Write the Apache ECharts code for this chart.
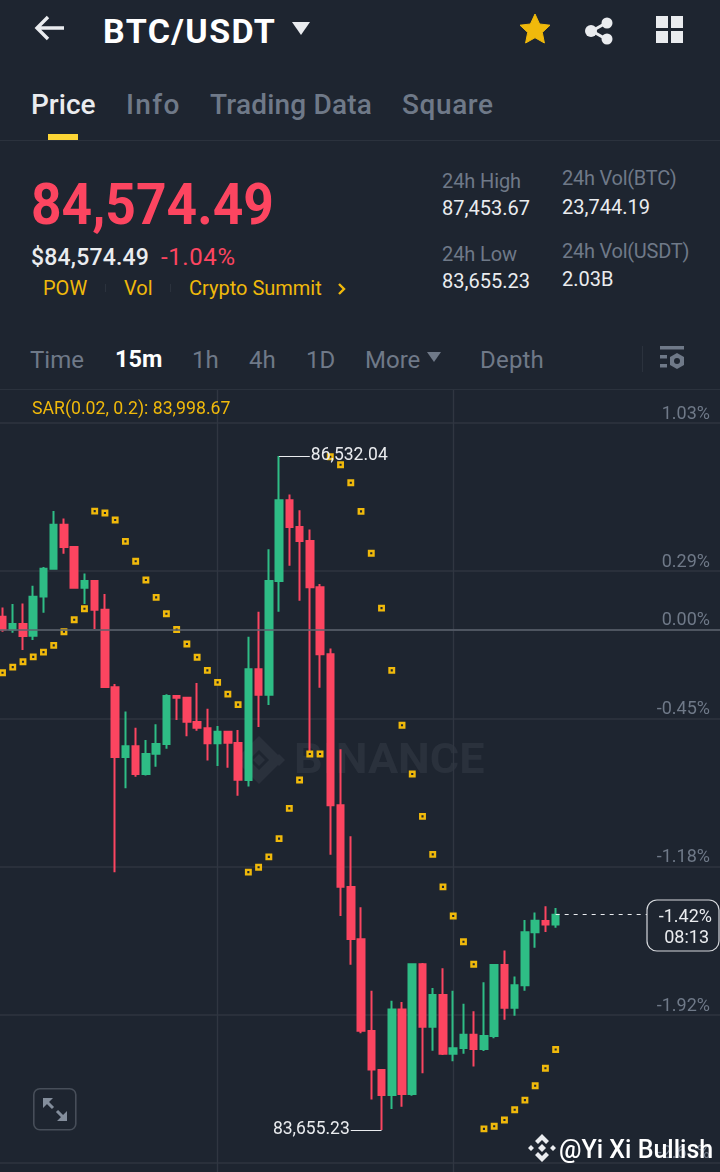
<!DOCTYPE html>
<html>
<head>
<meta charset="utf-8">
<title>BTC/USDT</title>
<script src="https://cdn.jsdelivr.net/npm/echarts@6/dist/echarts.min.js"></script>
<style>
html, body { margin: 0; padding: 0; background: #1e2530; }
#page { position: relative; width: 720px; height: 1172px; overflow: hidden; background: #1e2530; font-family: Roboto, sans-serif; color: #eaecef; }
#chart { position: absolute; left: -3px; top: 390px; width: 728px; height: 782px; }
.t { position: absolute; white-space: nowrap; line-height: 1; transform: translateY(-50%); }
.gray { color: #6f7988; }
.gold { color: #f0b90b; }
.red { color: #fc4560; }
.line { position: absolute; background: #2b323d; }
svg { position: absolute; overflow: visible; }
</style>
</head>
<body>
<div id="page">
    <!-- header -->
    <svg style="left:34px;top:15px" width="32" height="26"><path d="M30 13H3M14 2L3 13l11 11" fill="none" stroke="#eaecef" stroke-width="3.4"/></svg>
    <span class="t" style="left:103px;top:31px;font-size:34px;font-weight:700;letter-spacing:1.4px;color:#fff">BTC/USDT</span>
    <svg style="left:292px;top:22px" width="18" height="14"><path d="M0 0H18L9 13Z" fill="#eaecef"/></svg>
    <svg style="left:519px;top:13px" width="32" height="32"><path d="M16 1l4.6 10 10.4 1.2-7.7 7.2 2.1 10.6L16 24.7 6.600 30l2.100-10.600L1 12.200 11.400 11Z" fill="#f0b90b" stroke="#f0b90b" stroke-linejoin="round"/></svg>
    <svg style="left:585px;top:17px" width="30" height="26"><path d="M21 6L7 14l14 8" fill="none" stroke="#eaecef" stroke-width="3"/><circle cx="22" cy="6" r="5.500" fill="#eaecef"/><circle cx="6" cy="14" r="6" fill="#eaecef"/><circle cx="22" cy="22" r="5.500" fill="#eaecef"/></svg>
    <svg style="left:656px;top:16px" width="28" height="26" fill="#eaecef"><rect width="12" height="12"/><rect x="15" width="12" height="12"/><rect y="15" width="12" height="12"/><rect x="15" y="15" width="12" height="12"/></svg>

    <span class="t" style="left:31px;top:105px;font-size:28px;font-weight:500;color:#eaecef">Price</span>
    <span class="t gray" style="left:126px;top:105px;font-size:28px;font-weight:500;letter-spacing:1.400px">Info</span>
    <span class="t gray" style="left:210px;top:105px;font-size:28px;font-weight:500;letter-spacing:.2px">Trading Data</span>
    <span class="t gray" style="left:402px;top:105px;font-size:28px;font-weight:500;letter-spacing:.6px">Square</span>
    <div style="position:absolute;left:48px;top:134px;width:30px;height:6px;background:#fcd535"></div>
    <div class="line" style="left:0;top:140px;width:720px;height:1px"></div>

    <!-- price block -->
    <span class="t red" style="left:31px;top:204px;font-size:58px;font-weight:700;transform-origin:0 50%;transform:translateY(-50%) scaleX(.92)">84,574.49</span>
    <span class="t" style="left:31px;top:257px;font-size:23px;font-weight:500;letter-spacing:.2px">$84,574.49</span>
    <span class="t red" style="left:161px;top:257px;font-size:24px;letter-spacing:.6px">-1.04%</span>
    <span class="t gold" style="left:43px;top:288px;font-size:20px">POW</span>
    <span class="t gold" style="left:124px;top:288px;font-size:20px">Vol</span>
    <span class="t gold" style="left:189px;top:288px;font-size:20px">Crypto Summit</span>
    <svg style="left:338px;top:283px" width="8" height="12"><path d="M1 1l5 5-5 5" fill="none" stroke="#f0b90b" stroke-width="2.400"/></svg>
    <div class="line" style="left:105px;top:284px;width:1px;height:8px"></div>
    <div class="line" style="left:170px;top:284px;width:1px;height:8px"></div>

    <span class="t gray" style="left:442px;top:181px;font-size:20px;letter-spacing:-.1px">24h High</span>
    <span class="t" style="left:442px;top:208px;font-size:20px">87,453.67</span>
    <span class="t gray" style="left:442px;top:254px;font-size:20px;letter-spacing:-.1px">24h Low</span>
    <span class="t" style="left:442px;top:281px;font-size:20px">83,655.23</span>
    <span class="t gray" style="left:562px;top:178px;font-size:20px;letter-spacing:-.25px">24h Vol(BTC)</span>
    <span class="t" style="left:562px;top:207px;font-size:20px">23,744.19</span>
    <span class="t gray" style="left:562px;top:251px;font-size:20px;letter-spacing:-.25px">24h Vol(USDT)</span>
    <span class="t" style="left:562px;top:279px;font-size:20px">2.03B</span>

    <!-- interval tabs -->
    <span class="t gray" style="left:30px;top:360px;font-size:24px">Time</span>
    <span class="t" style="left:115px;top:360px;font-size:23.500px;font-weight:700;color:#fff">15m</span>
    <span class="t gray" style="left:192px;top:360px;font-size:24px">1h</span>
    <span class="t gray" style="left:249px;top:360px;font-size:24px">4h</span>
    <span class="t gray" style="left:306px;top:360px;font-size:24px">1D</span>
    <span class="t gray" style="left:365px;top:360px;font-size:24px">More</span>
    <svg style="left:427px;top:352px" width="14" height="10"><path d="M0 0H14L7 10Z" fill="#6f7988"/></svg>
    <span class="t gray" style="left:480px;top:360px;font-size:24px;letter-spacing:.2px">Depth</span>
    <div class="line" style="left:642px;top:346px;width:1px;height:26px"></div>
    <svg style="left:660px;top:346px" width="24" height="26" fill="#6f7988"><rect width="24" height="3.500"/><rect y="9" width="7" height="3.500"/><rect y="18" width="7" height="3.500"/><path d="M17 7l7 4v8l-7 4-7-4v-8z"/><circle cx="17" cy="15" r="3" fill="#1e2530"/></svg>
    <div class="line" style="left:0;top:389px;width:720px;height:1px"></div>

    <div id="chart"></div>

    <!-- overlays on the chart -->
    <svg style="left:33px;top:1088px" width="44" height="43"><rect x=".8" y=".8" width="42" height="41" rx="6" fill="#1e2530" stroke="#474e59" stroke-width="1.600"/><path d="M13 13l7 7M31 30l-7-7" fill="none" stroke="#848e9c" stroke-width="3"/><path d="M10 10h10l-10 10zM34 33H24l10-10z" fill="#848e9c"/></svg>
    <svg style="left:528px;top:1134px" width="28" height="28" fill="#eaecef"><path d="M14 0l7 7-3 3-4-4-4 4-3-3zM14 28l7-7-3-3-4 4-4-4-3 3zM0 14l3-3 3 3-3 3zM22 14l3-3 3 3-3 3zM14 10l4 4-4 4-4-4z"/></svg>
    <span class="t" style="left:559px;top:1149px;font-size:25px;font-weight:500;color:#fff">@Yi Xi Bullish</span>
</div>

<script>
// prices, one entry per 15m candle, left to right
var candleOpen = [85846, 85792, 85815, 85765, 85933, 86051, 86239, 86144, 85970, 85999, 85876, 85545, 85247, 85293, 85175, 85261, 85303, 85508, 85500, 85397, 85370, 85306, 85355, 85307, 85149, 85622, 85513, 85999, 86343, 86229, 86169, 85972, 85686, 85042, 84693, 84470, 84078, 83911, 83805, 84170, 83809, 84363, 84096, 84232, 83981, 84005, 84062, 84001, 84057, 84360, 84177, 84273, 84499, 84547, 84532];
var candleClose = [85792, 85815, 85764, 85932, 86051, 86239, 86144, 85970, 85999, 85876, 85546, 85247, 85293, 85175, 85260, 85303, 85508, 85500, 85398, 85372, 85306, 85355, 85308, 85150, 85622, 85513, 85999, 86343, 86229, 86169, 85972, 85686, 85042, 84694, 84471, 84079, 83913, 83805, 84170, 83809, 84363, 84096, 84232, 83981, 84004, 84062, 84001, 84057, 84360, 84177, 84273, 84499, 84549, 84532, 84574.49];
var candleLow = [85782, 85778, 85704, 85747, 85863, 86051, 86115, 85970, 85900, 85794, 85543, 84756, 85114, 85163, 85168, 85206, 85283, 85405, 85336, 85360, 85232, 85209, 85202, 85082, 85121, 85375, 85469, 85867, 86064, 85914, 85270, 85543, 84830, 84569, 84361, 84068, 83785, 83655.23, 83745, 83754, 83802, 83897, 83994, 83975, 83949, 83981, 83926, 83993, 84047, 84126, 84143, 84250, 84433, 84500, 84519];
var candleHigh = [85886, 85900, 85903, 85978, 86058, 86297, 86266, 86144, 86031, 85999, 85943, 85559, 85442, 85372, 85320, 85387, 85515, 85508, 85500, 85563, 85453, 85380, 85355, 85363, 85761, 85867, 86134, 86532.04, 86368, 86301, 86219, 85986, 85711, 85280, 84909, 84606, 84250, 83911, 84207, 84202, 84363, 84368, 84261, 84346, 84250, 84194, 84162, 84286, 84360, 84421, 84311, 84552, 84584, 84610, 84603];
var sarValues = [85607, 85631, 85654, 85675, 85695, 85724, 85782, 85833, 85880, 86297, 86289, 86259, 86168, 86083, 86003, 85929, 85859, 85792, 85730, 85673, 85617, 85566, 85516, 85471, 84756, 84777, 84821, 84899, 85028, 85149, 85260, 85260, 86529, 86495, 86418, 86296, 86117, 85883, 85617, 85383, 85175, 84994, 84832, 84693, 84569, 84459, 84363, 83660, 83671, 83698, 83742, 83783, 83844, 83919, 83998.67];

var tickPrices = [86673, 86041, 85792, 85410, 84778, 84146, 83515];
var tickLabels = ['1.03%', '0.29%', '0.00%', '-0.45%', '-1.18%', '-1.92%', '-2.65%'];

var zeroPrice = 85792;
var highIndex = 27, highPrice = 86532.04;
var lowIndex = 37, lowPrice = 83655.23;
var lastIndex = 54, lastPrice = 84574.49;
var timeGridIndexes = [21, 44];

var slotCount = 71;   // candles plus the empty room on the right
var categories = [];
for (var i = 0; i < slotCount; i++) {
    categories.push(String(i));
}

var candleData = candleOpen.map(function (open, i) {
    return [open, candleClose[i], candleLow[i], candleHigh[i]];
});

function formatPrice(value) {
    return value.toLocaleString('en-US', { minimumFractionDigits: 2 });
}

var chart = echarts.init(document.getElementById('chart'));

var option = {
    animation: false,
    backgroundColor: 'transparent',
    textStyle: { fontFamily: 'Roboto' },
    title: {
        text: 'SAR(0.02, 0.2): ' + formatPrice(sarValues[sarValues.length - 1]),
        left: 30,
        top: 6,
        textStyle: { color: '#f0b90b', fontSize: 17.7, fontWeight: 'normal', fontFamily: 'Roboto' }
    },
    // the div hangs 3px off the left of the page so the first candle is cut like the reference
    grid: { left: 0.38, right: 0.32, top: 0, bottom: 0 },
    xAxis: {
        type: 'category',
        data: categories,
        axisLine: { show: false },
        axisTick: { show: false },
        axisLabel: { show: false },
        splitLine: {
            show: true,
            alignWithLabel: true,
            interval: function (index) {
                return timeGridIndexes.indexOf(index) >= 0;
            },
            lineStyle: { color: '#303641', width: 1.4 }
        }
    },
    yAxis: {
        type: 'value',
        position: 'right',
        min: 83476,
        max: 86814,
        axisLine: { show: false },
        axisTick: { show: false, customValues: tickPrices },
        axisLabel: {
            inside: true,
            margin: 14.7,
            customValues: tickPrices,
            verticalAlign: 'bottom',
            padding: [0, 0, 0, 0],
            color: '#6f7988',
            fontSize: 18,
            formatter: function (value) {
                return tickLabels[tickPrices.indexOf(value)];
            }
        },
        splitLine: { show: true, lineStyle: { color: '#2a303b', width: 2 } }
    },
    graphic: [
        // Binance watermark
        { type: 'polygon', z: 0, shape: { points: [[262, 346], [282, 366], [275, 373], [262, 360], [249, 373], [242, 366]] }, style: { fill: '#2a313c' } },
        { type: 'polygon', z: 0, shape: { points: [[262, 394], [282, 374], [275, 367], [262, 380], [249, 367], [242, 374]] }, style: { fill: '#2a313c' } },
        { type: 'polygon', z: 0, shape: { points: [[262, 364], [268, 370], [262, 376], [256, 370]] }, style: { fill: '#2a313c' } },
        { type: 'polygon', z: 0, shape: { points: [[282, 364], [288, 370], [282, 376], [276, 370]] }, style: { fill: '#2a313c' } },
        {
            type: 'text', z: 0, x: 297, y: 372, scaleX: 1.07, scaleY: 1,
            style: { text: 'BINANCE', fill: '#2a313c', font: 'bold 42px Roboto', textVerticalAlign: 'middle' }
        },
        // current price box
        {
            type: 'rect', z: 10,
            shape: { x: 650, y: 510, width: 72, height: 51, r: 10 },
            style: { fill: '#1e2530', stroke: '#d5d8dc', lineWidth: 1.2 }
        },
        {
            type: 'text', z: 11, x: 715, y: 527,
            style: { text: '-1.42%', fill: '#eaecef', font: '18px Roboto', textAlign: 'right', textVerticalAlign: 'middle' }
        },
        {
            type: 'text', z: 11, x: 712, y: 548,
            style: { text: '08:13', fill: '#eaecef', font: '18px Roboto', textAlign: 'right', textVerticalAlign: 'middle' }
        }
    ],
    series: [
        {
            name: 'BTC/USDT',
            type: 'candlestick',
            data: candleData,
            barWidth: 7,
            z: 3,
            itemStyle: {
                color: '#2ebd85',
                color0: '#fc4560',
                borderColor: '#2ebd85',
                borderColor0: '#fc4560',
                borderWidth: 2
            },
            markLine: {
                silent: true,
                symbol: 'none',
                animation: false,
                data: [
                    [
                        { yAxis: zeroPrice, x: 0, lineStyle: { color: '#5b626e', width: 1.5, type: 'solid' }, label: { show: false } },
                        { yAxis: zeroPrice, x: 728 }
                    ],
                    [
                        { coord: [highIndex, highPrice], lineStyle: { color: '#eaecef', width: 1, type: 'solid' }, label: { show: true, position: 'end', formatter: formatPrice(highPrice), color: '#eaecef', fontSize: 17.5, distance: 1 } },
                        { coord: [highIndex + 3, highPrice] }
                    ],
                    [
                        { coord: [lowIndex, lowPrice], lineStyle: { color: '#eaecef', width: 1, type: 'solid' }, label: { show: true, position: 'end', formatter: formatPrice(lowPrice), color: '#eaecef', fontSize: 17.5, distance: 1 } },
                        { coord: [lowIndex - 3, lowPrice] }
                    ],
                    [
                        { coord: [lastIndex, lastPrice], lineStyle: { color: '#eaecef', width: 1, type: [4, 5] }, label: { show: false } },
                        { coord: [lastIndex + 9, lastPrice] }
                    ]
                ]
            }
        },
        {
            name: 'SAR',
            type: 'scatter',
            data: sarValues,
            symbol: 'rect',
            symbolSize: 4.5,
            z: 4,
            itemStyle: { color: '#1e2530', borderColor: '#f0b90b', borderWidth: 2.4, opacity: 1 }
        }
    ]
};
chart.setOption(option);
</script>
</body>
</html>
